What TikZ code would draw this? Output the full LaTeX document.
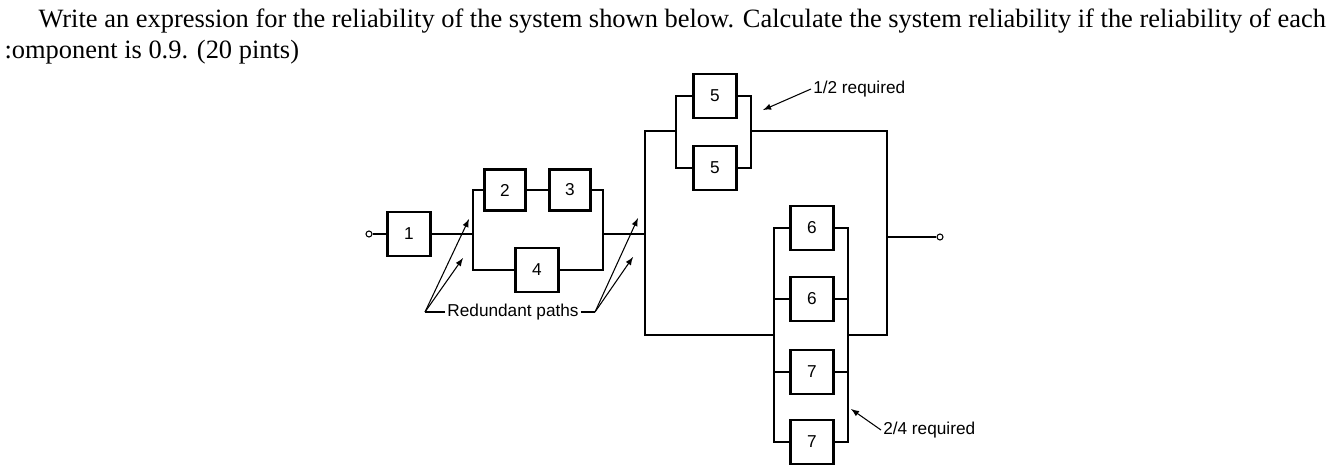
\documentclass[tikz,border=0pt]{standalone}
\usepackage{fontspec}
\setmainfont{Liberation Serif}
\newfontfamily\diagfont{Liberation Sans}
\usetikzlibrary{arrows}

\begin{document}
\begin{tikzpicture}[x=0.02cm,y=-0.02cm,line width=0.6pt,
	blk/.style={draw,line width=1.2pt,minimum width=0.86cm,minimum height=0.88cm,inner sep=0pt,font=\diagfont\fontsize{9.8}{11}\selectfont},
	small blk/.style={blk,minimum width=0.82cm,minimum height=0.82cm},
	term/.style={draw,circle,inner sep=0pt,minimum size=0.12cm},
	note/.style={font=\diagfont\fontsize{9.8}{11}\selectfont,inner sep=1pt},
	title/.style={anchor=base west,inner sep=0pt,font=\fontsize{15.05}{18}\selectfont}]
	\useasboundingbox (0,0) rectangle (1340,470);
	\node[title] (title1) at (38,28) {Write an expression for the reliability of the system shown below. Calculate the system reliability if the reliability of each};
	\node[title] (title2) at (4,58) {:omponent is 0.9. (20 pints)};

	\node[term] (in) at (369,234) {};
	\node[term] (out) at (940,237) {};
	\node[blk] (b1) at (409,234) {1};
	\node[small blk] (b2) at (505,190) {2};
	\node[small blk] (b3) at (570,190) {3};
	\node[blk] (b4) at (537,270) {4};
	\node[blk] (b5a) at (715,96) {5};
	\node[blk] (b5b) at (715,168) {5};
	\node[blk] (b6a) at (812,228) {6};
	\node[blk] (b6b) at (812,299) {6};
	\node[blk] (b7a) at (812,372) {7};
	\node[blk] (b7b) at (812,442) {7};

	\coordinate (sL) at (473,234);
	\coordinate (sR) at (603,234);
	\coordinate (mL) at (645,234);
	\coordinate (mR) at (887,237);
	\coordinate (t5L) at (676,131);
	\coordinate (t5R) at (751,131);
	\coordinate (g6L) at (774,335);
	\coordinate (g6R) at (848,335);

	\draw (in) -- (b1);
	\draw (b1) -- (sL);
	\draw (b2.west) -| (sL) |- (b4.west);
	\draw (b2) -- (b3);
	\draw (b3.east) -| (sR) |- (b4.east);
	\draw (sR) -- (mL);
	\draw (t5L) -| (mL) |- (g6L);
	\draw (b5a.west) -| (t5L) |- (b5b.west);
	\draw (b5a.east) -| (t5R) |- (b5b.east);
	\draw (t5R) -| (mR) -- (out);
	\draw (g6R) -| (mR);
	\draw (b6a.west) -| (g6L) |- (b7b.west);
	\draw (b6b.west) -- (b6b.west -| g6L);
	\draw (b7a.west) -- (b7a.west -| g6L);
	\draw (b6a.east) -| (g6R) |- (b7b.east);
	\draw (b6b.east) -- (b6b.east -| g6R);
	\draw (b7a.east) -- (b7a.east -| g6R);

	\node[note,anchor=west] (req12) at (811,89) {1/2 required};
	\coordinate (p5) at (763,110);
	\draw[-latex] (req12.west) -- (p5);
	\node[note,anchor=west] (req24) at (881,430) {2/4 required};
	\coordinate (p7) at (851,409);
	\draw[-latex] (req24.west) -- (p7);

	\node[note] (redund) at (513,312) {Redundant paths};
	\coordinate (rL) at (425,312);
	\coordinate (rR) at (595,312);
	\coordinate (a1) at (469,219);
	\coordinate (a2) at (463,258);
	\coordinate (a3) at (638,218);
	\coordinate (a4) at (633,257);
	\draw (redund.west) -- (rL);
	\draw[-latex] (rL) -- (a1);
	\draw[-latex] (rL) -- (a2);
	\draw (redund.east) -- (rR);
	\draw[-latex] (rR) -- (a3);
	\draw[-latex] (rR) -- (a4);
\end{tikzpicture}
\end{document}
